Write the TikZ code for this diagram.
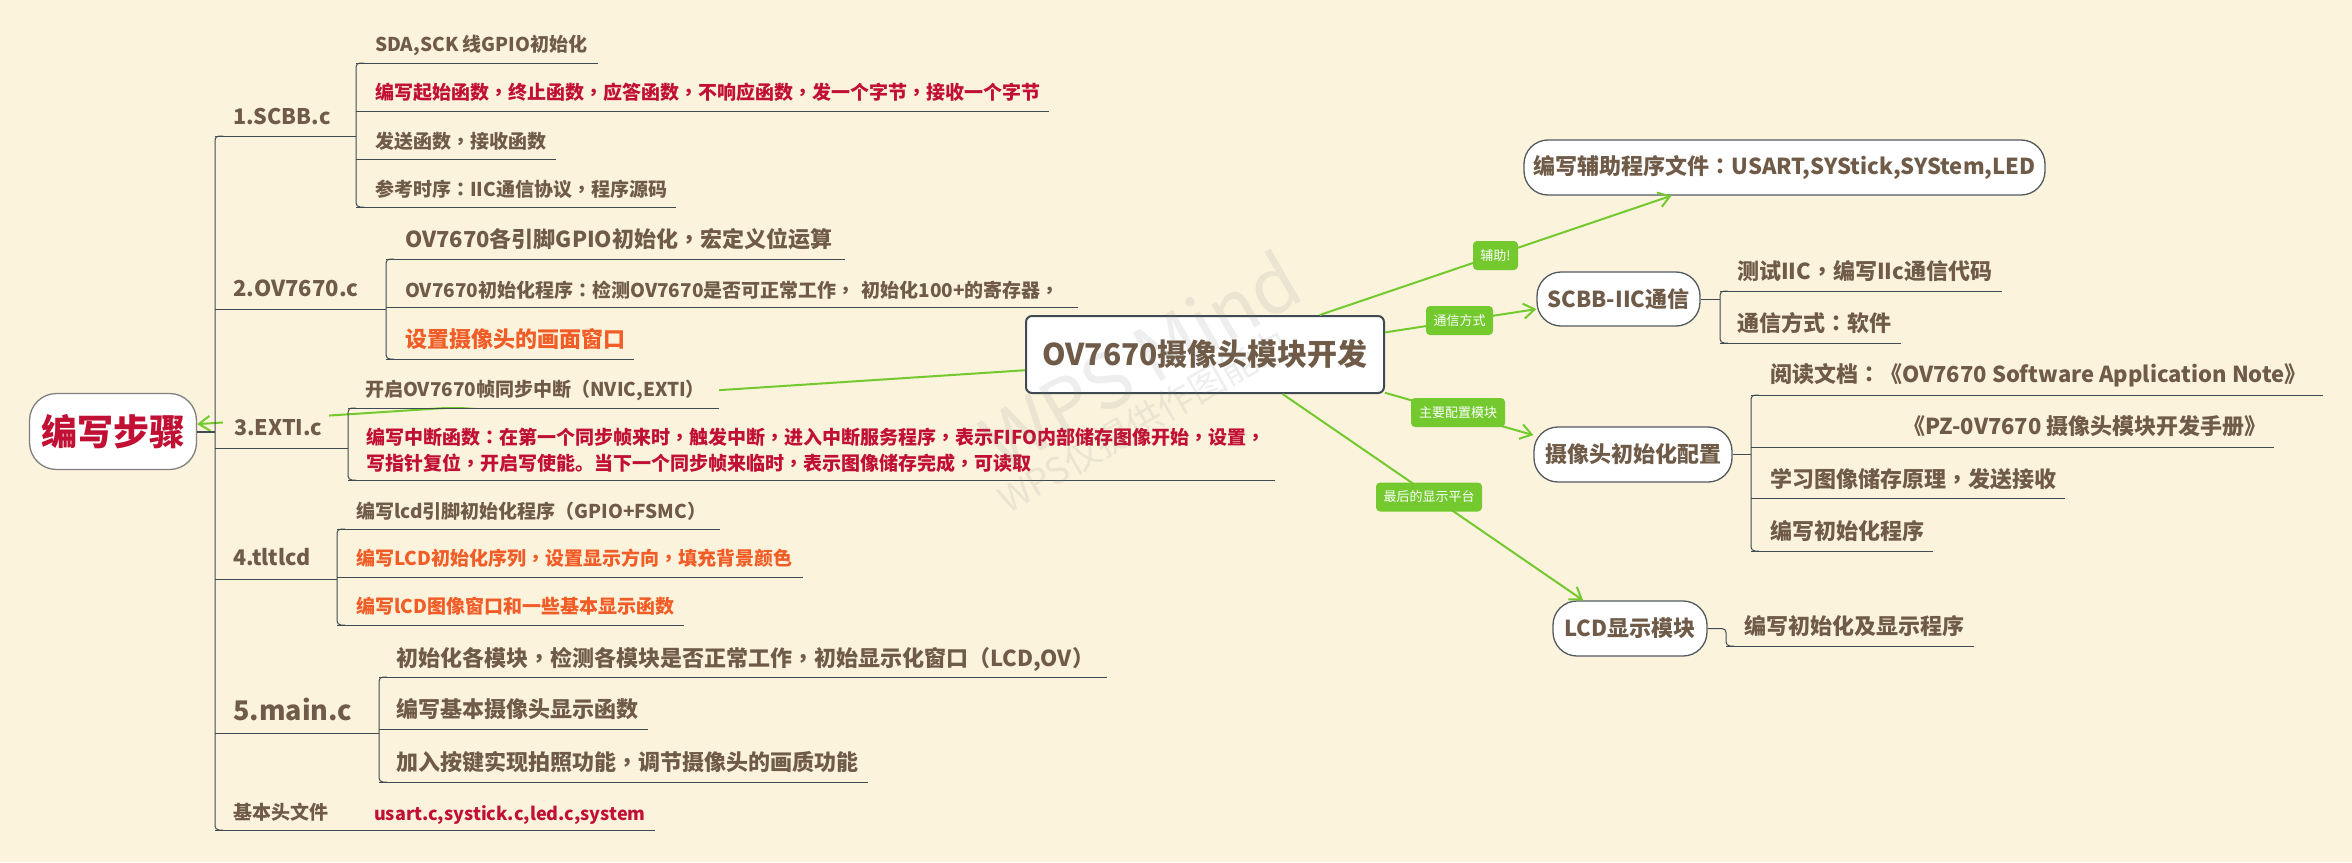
\documentclass[tikz,border=0pt]{standalone}
\usepackage{fontspec}
\setmainfont{Noto Sans CJK SC}
\newfontfamily\tcf{Noto Sans CJK TC}
\catcode`，=13 \def，{{\tcf\char"FF0C}}
\catcode`：=13 \def：{{\tcf\char"FF1A}}
\usetikzlibrary{arrows.meta}
\definecolor{bgc}{HTML}{FBF3DC}
\definecolor{brn}{HTML}{6F5B47}
\definecolor{redt}{HTML}{C11033}
\definecolor{orgt}{HTML}{F25C26}
\definecolor{grn}{HTML}{73C92E}
\definecolor{ulc}{HTML}{3F4A52}
\tikzset{
  sz/.style={font=\fontsize{#1}{26}\selectfont\bfseries,anchor=base west,inner sep=0pt,yshift=-0.36*#1 pt},
  txb/.style={text=brn},
  txr/.style={text=redt},
  txo/.style={text=orgt},
  ul/.style={draw=ulc,line width=1pt},
  trunk/.style={draw=ulc,line width=1pt,rounded corners=4pt},
  pill/.style={draw=ulc!70!gray,line width=1.3pt,fill=white,rounded corners=24pt,inner sep=0pt,
     text=brn,font=\fontsize{22}{26}\selectfont\bfseries},
  link/.style={draw=grn,line width=2pt},
  linka/.style={link,-{Straight Barb[length=11pt,width=15pt,line width=2pt]}},
  tag/.style={fill=grn,rounded corners=4pt,inner sep=0pt,text=white,font=\fontsize{13}{15}\selectfont},
  wmark/.style={text=gray,opacity=0.13,rotate=30,inner sep=0pt}
}
\newcommand{\leaf}[8]{%
  \node[#7] (#1) at (#5,#6) {#8};
  \coordinate (#1-a) at (#2,#3);
  \coordinate (#1-b) at (#4,#3);
  \draw[ul] (#1-a) -- (#1-b);
}
\begin{document}
\begin{tikzpicture}[x=1pt,y=-1pt]
\useasboundingbox (0,0) rectangle (2352,862);
\fill[bgc] (0,0) rectangle (2352,862);

% central and root nodes
\node[pill,rounded corners=6pt,draw=ulc,line width=2pt,minimum width=358pt,minimum height=77pt,
  font=\fontsize{30}{32}\selectfont\bfseries] (central) at (1205,354.5) {OV7670摄像头模块开发};
\node[pill,rounded corners=27pt,draw=gray,minimum width=167pt,minimum height=76pt,text=redt,
  font=\fontsize{36}{38}\selectfont\bfseries] (root) at (113,431.5) {编写步骤};

% right hand pills
\node[pill,minimum width=521pt,minimum height=55pt] (aux) at (1784.5,167.5) {编写辅助程序文件：USART,SYStick,SYStem,LED};
\node[pill,minimum width=163pt,minimum height=54pt] (scbb) at (1618.5,299) {SCBB-IIC通信};
\node[pill,minimum width=198pt,minimum height=55pt] (cam) at (1633,454.5) {摄像头初始化配置};
\node[pill,minimum width=154pt,minimum height=55pt] (lcd) at (1630,628.5) {LCD显示模块};

% green links
\draw[linka] (central.185) -- (root.5);
\fill[bgc] (348,370) rectangle (719,407.4);
\fill[bgc] (223,405) rectangle (329,447);
\draw[linka] (central.19.3) -- (aux.194.9);
\draw[linka] (central.7) -- (scbb.187.7);
\draw[linka] (central.-12) -- (cam.169.1);
\draw[linka] (central.-27.8) -- (lcd.149.1);

\node[tag,minimum width=45pt,minimum height=29pt] (t1) at (1495.5,255.5) {辅助!};
\node[tag,minimum width=67pt,minimum height=29pt] (t2) at (1459.5,320.5) {通信方式};
\node[tag,minimum width=94pt,minimum height=29pt] (t3) at (1458,412.5) {主要配置模块};
\node[tag,minimum width=106pt,minimum height=29pt] (t4) at (1429,497) {最后的显示平台};

% 1
\leaf{b1}{215}{136}{356}{233}{117}{sz=21.5,txb}{1.SCBB.c}
\leaf{b1a}{356}{63}{598}{375}{45}{sz=19,txb}{SDA,SCK 线GPIO初始化}
\leaf{b1b}{356}{111}{1049}{375}{93}{sz=19,txr}{编写起始函数，终止函数，应答函数，不响应函数，发一个字节，接收一个字节}
\leaf{b1c}{356}{159}{556}{375}{142}{sz=19,txb}{发送函数，接收函数}
\leaf{b1d}{356}{207}{676}{375}{190}{sz=19,txb}{参考时序：IIC通信协议，程序源码}
\draw[trunk] ([xshift=8pt]b1a-a) -- (b1a-a) -- (b1d-a) -- ([xshift=8pt]b1d-a);

% 2
\leaf{b2}{215}{309}{386}{233}{289}{sz=22,txb}{2.OV7670.c}
\leaf{b2a}{386}{259}{845}{405}{240}{sz=22,txb}{OV7670各引脚GPIO初始化，宏定义位运算}
\leaf{b2b}{386}{307}{1078}{405}{291}{sz=19,txb}{OV7670初始化程序：检测OV7670是否可正常工作，\hspace{6pt}初始化100+的寄存器，}
\leaf{b2c}{386}{359}{634}{405}{340}{sz=22,txo}{设置摄像头的画面窗口}
\draw[trunk] ([xshift=8pt]b2a-a) -- (b2a-a) -- (b2c-a) -- ([xshift=8pt]b2c-a);

% 3
\leaf{b3}{215}{448}{348}{234}{428}{sz=21.5,txb}{3.EXTI.c}
\leaf{b3a}{348}{408}{719}{365}{390}{sz=19,txb}{开启OV7670帧同步中断（NVIC,EXTI）}
\node[sz=19,txr,align=left] (b3b) at (366,464) {编写中断函数：在第一个同步帧来时，触发中断，进入中断服务程序，表示FIFO内部储存图像开始，设置，\\写指针复位，开启写使能。当下一个同步帧来临时，表示图像储存完成，可读取};
\coordinate (b3b-a) at (348,480);
\coordinate (b3b-b) at (1275,480);
\draw[ul] (b3b-a) -- (b3b-b);
\draw[trunk] ([xshift=8pt]b3a-a) -- (b3a-a) -- (b3b-a) -- ([xshift=8pt]b3b-a);

% 4
\leaf{b4}{215}{579}{337}{233}{558}{sz=21.5,txb}{4.tltlcd}
\leaf{b4a}{337}{529}{720}{356}{512}{sz=19,txb}{编写lcd引脚初始化程序（GPIO+FSMC）}
\leaf{b4b}{337}{577}{803}{356}{559}{sz=19,txo}{编写LCD初始化序列，设置显示方向，填充背景颜色}
\leaf{b4c}{337}{625}{684}{356}{607}{sz=19,txo}{编写lCD图像窗口和一些基本显示函数}
\draw[trunk] ([xshift=8pt]b4a-a) -- (b4a-a) -- (b4c-a) -- ([xshift=8pt]b4c-a);

% 5
\leaf{b5}{215}{733}{379}{233}{711}{sz=27,txb}{5.main.c}
\leaf{b5a}{379}{677}{1107}{396}{659}{sz=22,txb}{初始化各模块，检测各模块是否正常工作，初始显示化窗口（LCD,OV）}
\leaf{b5b}{379}{729}{648}{396}{710}{sz=22,txb}{编写基本摄像头显示函数}
\leaf{b5c}{379}{782}{868}{396}{763}{sz=22,txb}{加入按键实现拍照功能，调节摄像头的画质功能}
\draw[trunk] ([xshift=8pt]b5a-a) -- (b5a-a) -- (b5c-a) -- ([xshift=8pt]b5c-a);

% 6
\leaf{b6}{215}{830}{655}{233}{813}{sz=19,txb}{基本头文件}
\node[sz=18,txr] (b6t) at (374,814) {usart.c,systick.c,led.c,system};

% main trunk
\draw[trunk] ([xshift=8pt]b1-a) -- (b1-a) -- (b6-a) -- ([xshift=8pt]b6-a);
\draw[draw=ulc,line width=2pt] (root.east) -- (root.east -| b1-a);

% right branches
\leaf{s1}{1720}{291}{2002}{1737}{272}{sz=22,txb}{测试IIC，编写IIc通信代码}
\leaf{s2}{1720}{343}{1901}{1737}{324}{sz=22,txb}{通信方式：软件}
\draw[trunk] ([xshift=8pt]s1-a) -- (s1-a) -- (s2-a) -- ([xshift=8pt]s2-a);
\draw[trunk] (scbb.east) -- (scbb.east -| s1-a);

\leaf{c1}{1751}{395}{2323}{1770}{375}{sz=22,txb}{阅读文档：《OV7670 Software Application Note》}
\leaf{c2}{1751}{447}{2274}{1903}{427}{sz=22,txb}{《PZ-0V7670 摄像头模块开发手册》}
\leaf{c3}{1751}{498.5}{2065}{1770}{480}{sz=22,txb}{学习图像储存原理，发送接收}
\leaf{c4}{1751}{551}{1933}{1770}{532}{sz=22,txb}{编写初始化程序}
\draw[trunk] ([xshift=8pt]c1-a) -- (c1-a) -- (c4-a) -- ([xshift=8pt]c4-a);
\draw[trunk] (cam.east) -- (cam.east -| c1-a);

\leaf{d1}{1726}{646}{1974}{1744}{627}{sz=22,txb}{编写初始化及显示程序}
\draw[trunk] (lcd.east) -- (lcd.east -| d1-a) -- (d1-a) -- ([xshift=8pt]d1-a);

% watermark
\node[wmark,font=\fontsize{76}{78}\selectfont] (wm1) at (1140,360) {WPS Mind};
\node[wmark,font=\fontsize{36}{40}\selectfont] (wm2) at (1143,421) {WPS仅提供作图能力};
\end{tikzpicture}
\end{document}
